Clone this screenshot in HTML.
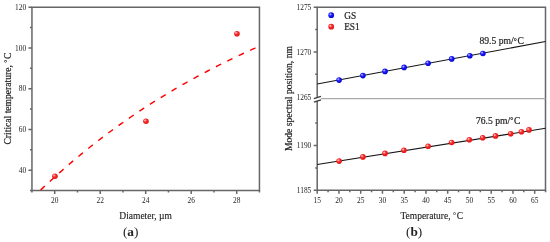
<!DOCTYPE html>
<html><head><meta charset="utf-8"><style>
html,body{margin:0;padding:0;background:#fff;width:550px;height:242px;overflow:hidden}
svg{display:block}
</style></head><body>
<svg width="550" height="242" viewBox="0 0 550 242">
<defs>
<radialGradient id="gr" cx="0.45" cy="0.42" r="0.6" fx="0.32" fy="0.32">
<stop offset="0" stop-color="#fff8f8"/><stop offset="0.15" stop-color="#ffa0a0"/><stop offset="0.45" stop-color="#f82a2a"/><stop offset="1" stop-color="#e01010"/></radialGradient>
<radialGradient id="gb" cx="0.45" cy="0.42" r="0.6" fx="0.32" fy="0.32">
<stop offset="0" stop-color="#f0f0ff"/><stop offset="0.14" stop-color="#9a9aff"/><stop offset="0.42" stop-color="#1e1eff"/><stop offset="1" stop-color="#0000d4"/></radialGradient>
</defs>
<rect width="550" height="242" fill="#fff"/>
<rect x="31.95" y="7.25" width="227.5" height="183.25" stroke="#666" stroke-width="1.5" fill="none"/>
<path d="M31.95 190.5v2.0M54.7 190.5v3.5M77.45 190.5v2.0M100.2 190.5v3.5M122.95 190.5v2.0M145.7 190.5v3.5M168.45 190.5v2.0M191.2 190.5v3.5M213.95 190.5v2.0M236.7 190.5v3.5M259.45 190.5v2.0M31.95 190.5h-2.0M31.95 170.14h-3.5M31.95 149.78h-2.0M31.95 129.42h-3.5M31.95 109.06h-2.0M31.95 88.69h-3.5M31.95 68.33h-2.0M31.95 47.97h-3.5M31.95 27.61h-2.0M31.95 7.25h-3.5" stroke="#666" stroke-width="1.5" fill="none"/>
<text x="54.7" y="202.6" text-anchor="middle" font-size="7.4" font-family="'Liberation Serif', serif" fill="#222">20</text>
<text x="100.2" y="202.6" text-anchor="middle" font-size="7.4" font-family="'Liberation Serif', serif" fill="#222">22</text>
<text x="145.7" y="202.6" text-anchor="middle" font-size="7.4" font-family="'Liberation Serif', serif" fill="#222">24</text>
<text x="191.2" y="202.6" text-anchor="middle" font-size="7.4" font-family="'Liberation Serif', serif" fill="#222">26</text>
<text x="236.7" y="202.6" text-anchor="middle" font-size="7.4" font-family="'Liberation Serif', serif" fill="#222">28</text>
<text x="26.2" y="172.74" text-anchor="end" font-size="7.4" font-family="'Liberation Serif', serif" fill="#222">40</text>
<text x="26.2" y="132.02" text-anchor="end" font-size="7.4" font-family="'Liberation Serif', serif" fill="#222">60</text>
<text x="26.2" y="91.29" text-anchor="end" font-size="7.4" font-family="'Liberation Serif', serif" fill="#222">80</text>
<text x="26.2" y="50.57" text-anchor="end" font-size="7.4" font-family="'Liberation Serif', serif" fill="#222">100</text>
<text x="26.2" y="9.85" text-anchor="end" font-size="7.4" font-family="'Liberation Serif', serif" fill="#222">120</text>
<path d="M39.88 190.7 L42.35 188.37 L44.82 186.05 L47.28 183.76 L49.75 181.49 L52.22 179.23 L54.69 177 L57.15 174.79 L59.62 172.59 L62.09 170.42 L64.56 168.26 L67.02 166.12 L69.49 164 L71.96 161.9 L74.43 159.82 L76.89 157.76 L79.36 155.71 L81.83 153.68 L84.3 151.68 L86.77 149.68 L89.23 147.71 L91.7 145.76 L94.17 143.82 L96.64 141.9 L99.1 139.99 L101.57 138.1 L104.04 136.23 L106.51 134.38 L108.97 132.54 L111.44 130.72 L113.91 128.92 L116.38 127.13 L118.84 125.36 L121.31 123.6 L123.78 121.86 L126.25 120.13 L128.72 118.42 L131.18 116.73 L133.65 115.05 L136.12 113.38 L138.59 111.73 L141.05 110.1 L143.52 108.48 L145.99 106.87 L148.46 105.28 L150.92 103.7 L153.39 102.14 L155.86 100.59 L158.33 99.05 L160.79 97.53 L163.26 96.02 L165.73 94.52 L168.2 93.04 L170.66 91.57 L173.13 90.11 L175.6 88.67 L178.07 87.24 L180.54 85.82 L183 84.41 L185.47 83.02 L187.94 81.64 L190.41 80.26 L192.87 78.91 L195.34 77.56 L197.81 76.22 L200.28 74.9 L202.74 73.58 L205.21 72.28 L207.68 70.99 L210.15 69.71 L212.61 68.44 L215.08 67.18 L217.55 65.93 L220.02 64.69 L222.49 63.46 L224.95 62.24 L227.42 61.03 L229.89 59.83 L232.36 58.64 L234.82 57.46 L237.29 56.28 L239.76 55.12 L242.23 53.97 L244.69 52.82 L247.16 51.68 L249.63 50.56 L252.1 49.44 L254.56 48.32 L257.03 47.22 L259.5 46.12" stroke="#ff0000" stroke-width="1.45" fill="none" stroke-dasharray="5.8 6.856" stroke-dashoffset="11.7"/>
<circle cx="54.95" cy="176.25" r="2.8" fill="url(#gr)"/>
<circle cx="145.95" cy="121.27" r="2.8" fill="url(#gr)"/>
<circle cx="236.95" cy="33.72" r="2.8" fill="url(#gr)"/>
<text x="145.6" y="218.8" text-anchor="middle" font-size="9.5" font-family="'Liberation Serif', serif" fill="#222" stroke="#222" stroke-width="0.12">Diameter, µm</text>
<text transform="translate(10.9,98.5) rotate(-90)" text-anchor="middle" font-size="9.6" font-family="'Liberation Serif', serif" fill="#222" stroke="#222" stroke-width="0.2">Critical temperature, <tspan font-size="80%" dy="-0.6">°</tspan><tspan dx="0.8" dy="0.6">C</tspan></text>
<text x="130.7" y="236.4" text-anchor="middle" font-size="13.3" font-family="'Liberation Serif', serif" fill="#222">(<tspan font-weight="bold">a</tspan>)</text>
<path d="M317.2 97.6V7.25H545.5V190.3H317.2V101.0" stroke="#666" stroke-width="1.5" fill="none"/>
<path d="M321 98.6H545.5" stroke="#aaa" stroke-width="1.1" fill="none"/>
<path d="M313.9 98.7L321 96.4M313.9 102.1L321 99.8" stroke="#3a3a3a" stroke-width="1.25" fill="none"/>
<path d="M317.2 190.3v3.5M328.07 190.3v2.0M338.95 190.3v3.5M349.82 190.3v2.0M360.7 190.3v3.5M371.57 190.3v2.0M382.45 190.3v3.5M393.32 190.3v2.0M404.2 190.3v3.5M415.07 190.3v2.0M425.95 190.3v3.5M436.82 190.3v2.0M447.7 190.3v3.5M458.57 190.3v2.0M469.45 190.3v3.5M480.32 190.3v2.0M491.2 190.3v3.5M502.07 190.3v2.0M512.95 190.3v3.5M523.82 190.3v2.0M534.7 190.3v3.5M545.57 190.3v2.0M317.2 7.25h-3.5M317.2 29.6h-2M317.2 51.95h-3.5M317.2 74.3h-2M317.2 190.3h-3.5M317.2 167.9h-2M317.2 145.5h-3.5M317.2 123.1h-2" stroke="#666" stroke-width="1.5" fill="none"/>
<text x="317.2" y="202.6" text-anchor="middle" font-size="7.4" font-family="'Liberation Serif', serif" fill="#222">15</text>
<text x="338.95" y="202.6" text-anchor="middle" font-size="7.4" font-family="'Liberation Serif', serif" fill="#222">20</text>
<text x="360.7" y="202.6" text-anchor="middle" font-size="7.4" font-family="'Liberation Serif', serif" fill="#222">25</text>
<text x="382.45" y="202.6" text-anchor="middle" font-size="7.4" font-family="'Liberation Serif', serif" fill="#222">30</text>
<text x="404.2" y="202.6" text-anchor="middle" font-size="7.4" font-family="'Liberation Serif', serif" fill="#222">35</text>
<text x="425.95" y="202.6" text-anchor="middle" font-size="7.4" font-family="'Liberation Serif', serif" fill="#222">40</text>
<text x="447.7" y="202.6" text-anchor="middle" font-size="7.4" font-family="'Liberation Serif', serif" fill="#222">45</text>
<text x="469.45" y="202.6" text-anchor="middle" font-size="7.4" font-family="'Liberation Serif', serif" fill="#222">50</text>
<text x="491.2" y="202.6" text-anchor="middle" font-size="7.4" font-family="'Liberation Serif', serif" fill="#222">55</text>
<text x="512.95" y="202.6" text-anchor="middle" font-size="7.4" font-family="'Liberation Serif', serif" fill="#222">60</text>
<text x="534.7" y="202.6" text-anchor="middle" font-size="7.4" font-family="'Liberation Serif', serif" fill="#222">65</text>
<text x="311.3" y="9.85" text-anchor="end" font-size="7.4" font-family="'Liberation Serif', serif" fill="#222">1275</text>
<text x="311.3" y="54.55" text-anchor="end" font-size="7.4" font-family="'Liberation Serif', serif" fill="#222">1270</text>
<text x="311.3" y="100" text-anchor="end" font-size="7.4" font-family="'Liberation Serif', serif" fill="#222">1265</text>
<text x="311.3" y="148.1" text-anchor="end" font-size="7.4" font-family="'Liberation Serif', serif" fill="#222">1190</text>
<text x="311.3" y="192.9" text-anchor="end" font-size="7.4" font-family="'Liberation Serif', serif" fill="#222">1185</text>
<path d="M317.2 83.9L545.5 41.55" stroke="#151515" stroke-width="1.05" fill="none"/>
<path d="M317.2 164.5L545.5 128.29" stroke="#151515" stroke-width="1.05" fill="none"/>
<circle cx="339.1" cy="80.1" r="2.8" fill="url(#gb)"/>
<circle cx="362.9" cy="75.6" r="2.8" fill="url(#gb)"/>
<circle cx="385" cy="71.4" r="2.8" fill="url(#gb)"/>
<circle cx="404.1" cy="67.4" r="2.8" fill="url(#gb)"/>
<circle cx="428.1" cy="63.2" r="2.8" fill="url(#gb)"/>
<circle cx="451.7" cy="58.9" r="2.8" fill="url(#gb)"/>
<circle cx="469.8" cy="55.7" r="2.8" fill="url(#gb)"/>
<circle cx="482.9" cy="53.5" r="2.8" fill="url(#gb)"/>
<circle cx="339.1" cy="161.1" r="2.8" fill="url(#gr)"/>
<circle cx="362.9" cy="156.9" r="2.8" fill="url(#gr)"/>
<circle cx="385" cy="153.4" r="2.8" fill="url(#gr)"/>
<circle cx="403.9" cy="150.3" r="2.8" fill="url(#gr)"/>
<circle cx="428.1" cy="146.3" r="2.8" fill="url(#gr)"/>
<circle cx="451.6" cy="142.5" r="2.8" fill="url(#gr)"/>
<circle cx="469.3" cy="139.8" r="2.8" fill="url(#gr)"/>
<circle cx="482.7" cy="137.8" r="2.8" fill="url(#gr)"/>
<circle cx="495.5" cy="135.9" r="2.8" fill="url(#gr)"/>
<circle cx="510.7" cy="133.8" r="2.8" fill="url(#gr)"/>
<circle cx="521.4" cy="131.8" r="2.8" fill="url(#gr)"/>
<circle cx="529" cy="129.9" r="2.8" fill="url(#gr)"/>
<circle cx="331.2" cy="15.2" r="2.85" fill="url(#gb)"/>
<circle cx="331.2" cy="26.7" r="2.85" fill="url(#gr)"/>
<text x="344.2" y="18.9" font-size="9.3" font-family="'Liberation Serif', serif" fill="#222" stroke="#222" stroke-width="0.2">GS</text>
<text x="344.2" y="30.3" font-size="9.3" font-family="'Liberation Serif', serif" fill="#222" stroke="#222" stroke-width="0.2">ES1</text>
<text x="479.5" y="44.1" font-size="9.6" font-family="'Liberation Serif', serif" fill="#222" stroke="#222" stroke-width="0.2">89.5 pm/<tspan font-size="80%" dy="-0.6">°</tspan><tspan dx="0.8" dy="0.6">C</tspan></text>
<text x="476" y="123.6" font-size="9.6" font-family="'Liberation Serif', serif" fill="#222" stroke="#222" stroke-width="0.2">76.5 pm/<tspan font-size="80%" dy="-0.6">°</tspan><tspan dx="0.8" dy="0.6">C</tspan></text>
<text x="431.8" y="218.8" text-anchor="middle" font-size="9.5" font-family="'Liberation Serif', serif" fill="#222" stroke="#222" stroke-width="0.12">Temperature, <tspan font-size="80%" dy="-0.6">°</tspan><tspan dx="0.8" dy="0.6">C</tspan></text>
<text transform="translate(291.5,98.6) rotate(-90)" text-anchor="middle" font-size="9.6" font-family="'Liberation Serif', serif" fill="#222" stroke="#222" stroke-width="0.2">Mode spectral position, nm</text>
<text x="414.1" y="236.2" text-anchor="middle" font-size="13.3" font-family="'Liberation Serif', serif" fill="#222">(<tspan font-weight="bold">b</tspan>)</text>
</svg>
</body></html>
